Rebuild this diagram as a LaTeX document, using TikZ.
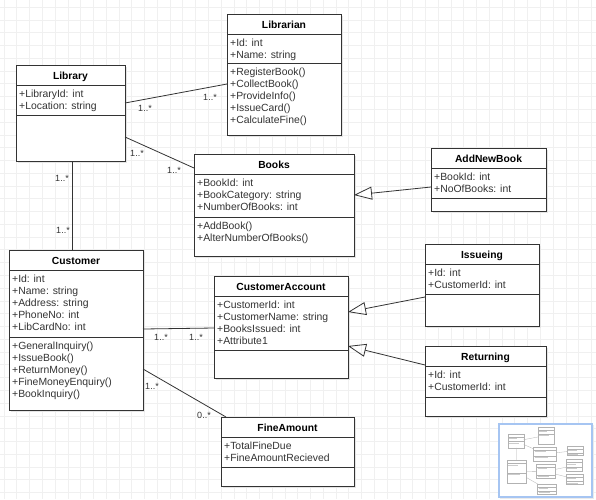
\documentclass[tikz,border=0pt]{standalone}
\usepackage{fontspec}
\setmainfont{Liberation Sans}
\usetikzlibrary{calc}
\usetikzlibrary{arrows.meta}

\definecolor{gridgray}{HTML}{F0F0F0}
\definecolor{boxline}{HTML}{333333}
\definecolor{textgray}{HTML}{333333}
\definecolor{mapblue}{HTML}{A6C5F2}

\tikzset{
  gridline/.style={draw=gridgray, line width=0.9pt},
  classbox/.style={draw=boxline, fill=white, line width=1pt, anchor=north west, inner sep=0, outer sep=0},
  classtitle/.style={font=\bfseries\fontsize{10.3}{12}\selectfont, anchor=base, inner sep=0},
  members/.style={font=\fontsize{10.4}{12}\selectfont, text=textgray, anchor=north west, inner sep=0, align=left},
  assoc/.style={draw=boxline, line width=0.8pt},
  inherit/.style={draw=boxline, line width=0.8pt, -{Triangle[open, length=18pt, width=13pt, line width=0.8pt]}},
  mult/.style={font=\fontsize{9}{10}\selectfont, text=textgray, inner sep=1pt},
}

% #1 name, #2 corner, #3 width, #4 height, #5 end of attributes, #6 title, #7 attributes, #8 methods
\newcommand{\umlclass}[8]{
  \fill[black!10] ($#2+(2,2)$) rectangle ++(#3,#4);
  \node[classbox, minimum width=#3, minimum height=#4] (#1) at #2 {};
  \node[classtitle] at ($(#1.north west)!0.5!(#1.north east)+(0,14)$) {#6};
  \draw[boxline, line width=1pt] ($(#1.north west)+(0,20)$) -- ($(#1.north east)+(0,20)$);
  \draw[boxline, line width=1pt] ($(#1.north west)+(0,#5)$) -- ($(#1.north east)+(0,#5)$);
  \node[members] at ($(#1.north west)+(3,23.6)$) {\strut#7};
  \node[members] at ($(#1.north west)+(3,{#5+3.6})$) {\strut#8};
}

\begin{document}
\begin{tikzpicture}[x=1pt, y=-1pt]
\useasboundingbox (0,0) rectangle (596,499);
\fill[white] (0,0) rectangle (596,499);
\foreach \i in {0,...,46} {
  \draw[gridline] ({4.1+12.77*\i},0)--++(0,499);
}
\foreach \j in {0,...,38} {
  \draw[gridline] (0,{7.3+12.77*\j})--++(596,0);
}

\umlclass{librarian}{(227,14)}{114}{121}{49}{Librarian}
  {+Id: int\\+Name: string}
  {+RegisterBook()\\+CollectBook()\\+ProvideInfo()\\+IssueCard()\\+CalculateFine()}
\umlclass{library}{(16,65)}{109}{96}{50}{Library}
  {+LibraryId: int\\+Location: string}{}
\umlclass{books}{(194,154)}{160}{102}{63}{Books}
  {+BookId: int\\+BookCategory: string\\+NumberOfBooks: int}
  {+AddBook()\\+AlterNumberOfBooks()}
\umlclass{addnewbook}{(431,148)}{115}{63}{50}{AddNewBook}
  {+BookId: int\\+NoOfBooks: int}{}
\umlclass{customer}{(9,250)}{134}{160}{87}{Customer}
  {+Id: int\\+Name: string\\+Address: string\\+PhoneNo: int\\+LibCardNo: int}
  {+GeneralInquiry()\\+IssueBook()\\+ReturnMoney()\\+FineMoneyEnquiry()\\+BookInquiry()}
\umlclass{custaccount}{(214,276)}{134}{102}{74}{CustomerAccount}
  {+CustomerId: int\\+CustomerName: string\\+BooksIssued: int\\+Attribute1}{}
\umlclass{issueing}{(425,244)}{114}{82}{50}{Issueing}
  {+Id: int\\+CustomerId: int}{}
\umlclass{returning}{(425,346)}{121}{70}{51}{Returning}
  {+Id: int\\+CustomerId: int}{}
\umlclass{fineamount}{(221,417)}{133}{69}{50}{FineAmount}
  {+TotalFineDue\\+FineAmountRecieved}{}

% associations
\draw[assoc] ($(library.north east)+(0,38)$) -- ($(librarian.north west)+(0,70)$);
\draw[assoc] ($(library.north east)+(0,72)$) -- ($(books.north west)+(0,14)$);
\draw[assoc] ($(library.south west)+(56,0)$) -- ($(customer.north west)+(63,0)$);
\draw[assoc] ($(customer.north east)+(0,79)$) -- ($(custaccount.north west)+(0,52)$);
\draw[assoc] ($(customer.north east)+(0,119)$) -- ($(fineamount.north west)+(5,0)$);
\node[mult] at (145,108) {1..*};
\node[mult] at (210,97) {1..*};
\node[mult] at (137,153) {1..*};
\node[mult] at (174,170) {1..*};
\node[mult] at (62,178) {1..*};
\node[mult] at (63,230) {1..*};
\node[mult] at (161,337) {1..*};
\node[mult] at (196,337) {1..*};
\node[mult] at (152,386) {1..*};
\node[mult] at (204,415) {0..*};

% generalisations
\draw[inherit] ($(addnewbook.north west)+(0,39)$) -- ($(books.north east)+(0,41)$);
\draw[inherit] ($(issueing.north west)+(0,53)$) -- ($(custaccount.north east)+(0,36)$);
\draw[inherit] ($(returning.north west)+(0,19)$) -- ($(custaccount.north east)+(0,70)$);

% overview map
\fill[black!8] (500,425) rectangle (594,499);
\draw[mapblue, fill=white, line width=1.5pt] (499,424) rectangle (592,497);
\begin{scope}[shift={(506,425)}, scale=0.142]
\foreach \x/\y/\w/\h/\a in {227/14/114/121/49, 16/65/109/96/50, 194/154/160/102/63, 431/148/115/63/50,
  9/250/134/160/87, 214/276/134/102/74, 425/244/114/82/50, 425/346/121/70/51, 221/417/133/69/50} {
  \draw[black!30, line width=0.4pt] (\x,\y) rectangle ++(\w,\h);
  \draw[black!30, line width=0.3pt] (\x,\y+20) -- ++(\w,0) (\x,\y+\a) -- ++(\w,0);
  \draw[black!20, line width=0.5pt] (\x+8,\y+30) -- ++(0.5*\w,0) (\x+8,\y+\a+10) -- ++(0.6*\w,0);
}
\draw[black!30, line width=0.3pt] (125,103) -- (227,84) (125,137) -- (194,168) (72,161) -- (72,250)
  (143,329) -- (214,328) (143,369) -- (226,417) (431,187) -- (354,195) (425,297) -- (348,312)
  (425,365) -- (348,346);
\end{scope}
\end{tikzpicture}
\end{document}
